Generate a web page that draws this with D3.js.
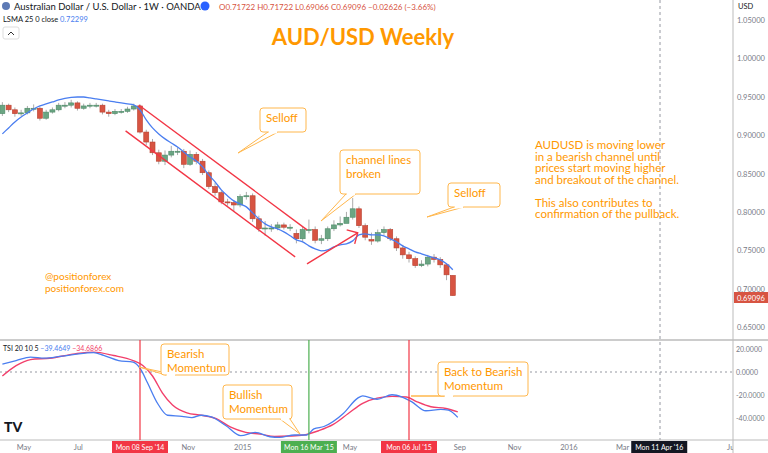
<!DOCTYPE html>
<html><head><meta charset="utf-8">
<script src="https://cdn.jsdelivr.net/npm/d3@7"></script>
<style>
body{margin:0;background:#fff;}
svg{font-family:Lato,"Open Sans",sans-serif;}
</style></head>
<body><div id="chart"></div>
<script>
// weekly candles, week 0 = Mon 07 Apr 2014
var closes = [0.939,0.933,0.928,0.929,0.935,0.935,0.922,0.930,0.933,0.939,0.939,0.942,0.935,0.938,0.939,0.939,0.930,0.928,0.931,0.931,0.934,0.938,
  0.904,0.891,0.877,0.866,0.874,0.879,0.879,0.862,0.875,0.866,0.851,0.833,0.825,0.813,0.812,0.809,0.820,0.821,
  0.791,0.778,0.779,0.779,0.783,0.780,0.780,0.765,0.777,0.777,0.763,0.765,0.778,0.783,0.785,0.793,0.804,
  0.782,0.767,0.762,0.773,0.777,0.765,0.753,0.744,0.739,0.730,0.732,0.741,0.738,0.731,0.718,0.69096];
var opens = [0.928,0.939,0.933,0.928,0.929,0.935,0.935,0.922,0.930,0.933,0.939,0.939,0.942,0.935,0.938,0.939,0.939,0.930,0.928,0.931,0.931,0.934,
  0.938,0.904,0.891,0.877,0.866,0.874,0.879,0.879,0.862,0.875,0.866,0.851,0.833,0.825,0.813,0.812,0.809,0.820,
  0.821,0.791,0.778,0.779,0.779,0.783,0.780,0.772,0.765,0.777,0.777,0.763,0.765,0.778,0.783,0.785,0.793,
  0.804,0.782,0.764,0.762,0.773,0.777,0.765,0.753,0.744,0.739,0.730,0.732,0.741,0.738,0.731,0.71722];
var highs = [0.943,0.941,0.936,0.933,0.938,0.940,0.937,0.933,0.936,0.942,0.943,0.946,0.944,0.941,0.942,0.942,0.941,0.933,0.934,0.934,0.937,0.941,
  0.940,0.907,0.895,0.881,0.880,0.886,0.884,0.882,0.880,0.878,0.869,0.854,0.838,0.828,0.817,0.815,0.823,0.826,
  0.824,0.795,0.788,0.784,0.787,0.786,0.784,0.777,0.781,0.790,0.781,0.770,0.781,0.789,0.794,0.800,0.818,
  0.807,0.785,0.773,0.777,0.781,0.779,0.768,0.757,0.748,0.742,0.737,0.744,0.745,0.741,0.733,0.71722];
var lows = [0.925,0.930,0.924,0.925,0.927,0.931,0.919,0.920,0.928,0.931,0.935,0.936,0.932,0.933,0.935,0.936,0.927,0.924,0.926,0.928,0.929,0.932,
  0.902,0.887,0.874,0.862,0.861,0.871,0.874,0.857,0.860,0.862,0.848,0.830,0.821,0.810,0.808,0.801,0.806,0.816,
  0.787,0.774,0.769,0.774,0.776,0.777,0.775,0.759,0.761,0.772,0.759,0.758,0.762,0.775,0.781,0.787,0.790,
  0.779,0.763,0.757,0.760,0.770,0.762,0.749,0.739,0.734,0.727,0.728,0.729,0.734,0.727,0.711,0.69066];
var lsma = [0.9016,0.9094,0.9172,0.9237,0.9289,0.9341,0.9380,0.9406,0.9432,0.9458,0.9478,0.9491,0.9497,0.9497,0.9484,0.9471,0.9458,0.9445,0.9432,0.9419,0.9406,0.9393,
  0.9328,0.9198,0.9094,0.9016,0.8951,0.8898,0.8846,0.8781,0.8716,0.8664,0.8586,0.8482,0.8391,0.8286,0.8208,0.8143,0.8104,0.8065,
  0.7987,0.7909,0.7844,0.7805,0.7779,0.7740,0.7688,0.7635,0.7609,0.7557,0.7518,0.7492,0.7505,0.7544,0.7570,0.7583,0.7622,
  0.7701,0.7714,0.7701,0.7701,0.7688,0.7648,0.7609,0.7557,0.7518,0.7479,0.7453,0.7427,0.7401,0.7375,0.7323,0.7245];
// TSI readings [week, value]
var tsiLine = [[0,6.9],[2.2,9.9],[4.5,12.9],[6.8,12.0],[9.2,13.5],[11.6,15.3],[14.6,16.8],[16.2,14.4],[18.6,9.9],[20.9,8.5],[22.1,2.5],[23.2,-9.4],
  [24.8,-27.2],[26.4,-37.6],[28.7,-38.5],[30.3,-39.7],[31.8,-37.6],[33.4,-39.1],[35.7,-46.5],[38.1,-55.4],[40.4,-52.5],[42.8,-56.3],[44.3,-56.9],
  [46.7,-54.8],[48.6,-54.8],[49.8,-49.5],[51.4,-47.4],[54.5,-36.1],[56.8,-22.7],[57.6,-20.7],[59.9,-23.7],[62.3,-19.8],[63.9,-21.8],[65.4,-25.7],
  [67.7,-33.7],[70.1,-32.5],[71.3,-33.1],[72.8,-39.46]];
var tsiSignal = [[0,-3.5],[2.2,5.5],[4.5,10.8],[7.6,12.0],[11.6,15.8],[14.6,17.3],[17.8,14.3],[20.9,9.9],[22.5,5.5],[24.0,-3.5],[25.6,-18.3],[27.2,-28.7],
  [29.5,-35.5],[31.8,-37.6],[34.2,-40.6],[36.5,-48.0],[38.9,-52.5],[41.2,-54.0],[43.5,-56.0],[45.9,-55.7],[48.2,-54.8],[50.6,-51.0],[52.9,-45.6],
  [55.3,-36.1],[57.6,-27.2],[59.9,-22.7],[62.3,-21.2],[64.6,-21.8],[66.2,-25.7],[68.5,-30.2],[70.9,-31.7],[72.8,-34.69]];
var priceTicks = [0.65,0.70,0.75,0.80,0.85,0.90,0.95,1.00,1.05];
var tsiTicks = [20,0,-20,-40];
var timeTicks = ["2014-05-01","2014-07-01","2014-11-01","2015-01-01","2015-05-01","2015-09-01","2015-11-01","2016-01-01","2016-03-01","2016-07-01"];
var timeLabels = ["May","Jul","Nov","2015","May","Sep","Nov","2016","Mar","Jul"];
var markDates = ["2014-09-08","2015-03-16","2015-07-06","2016-04-11"];
var markLabels = ["Mon 08 Sep '14","Mon 16 Mar '15","Mon 06 Jul '15","Mon 11 Apr '16"];
var markColors = ["#f23645","#4caf50","#f23645","#131722"];
var channelUpper = [[21.8,0.9393],[48.7,0.7766]];
var channelLower = [[19.7,0.9055],[46.8,0.7414]];
var breakArrow = [[48.7,0.7323],[56.8,0.7727]];

var W = 768, H = 453, axisX = 733, sepY = 340, botY = 440;
var orange = "#ff9800", up = "#6ba583", down = "#d75442";
var start = new Date(2014, 3, 7);
var x = d3.scaleTime().domain([new Date(2014, 8, 8), new Date(2015, 6, 6)]).range([140, 409]);
var xw = i => x(d3.timeHour.offset(start, i * 7 * 24));
var y = d3.scaleLinear().domain([0.65, 1.05]).range([327, 20]);
var yt = d3.scaleLinear().domain([-40, 20]).range([418, 349]);

var svg = d3.select('#chart').append('svg').attr('width', W).attr('height', H);
svg.append('defs').append('clipPath').attr('id', 'plot').append('rect').attr('width', axisX).attr('height', H);
var g = svg.append('g').attr('clip-path', 'url(#plot)');

// crosshair + separators
g.append('line').attr('x1', 660).attr('x2', 660).attr('y1', 0).attr('y2', botY).attr('stroke', '#9598a1').attr('stroke-dasharray', '3,3');
g.append('line').attr('x1', 0).attr('x2', axisX).attr('y1', yt(0)).attr('y2', yt(0)).attr('stroke', '#9598a1').attr('stroke-dasharray', '2,3');
svg.append('line').attr('x1', 0).attr('x2', W).attr('y1', sepY).attr('y2', sepY).attr('stroke', '#bbb').attr('stroke-width', 1.5);
svg.append('line').attr('x1', 0).attr('x2', W).attr('y1', botY).attr('y2', botY).attr('stroke', '#bbb');
svg.append('line').attr('x1', axisX).attr('x2', axisX).attr('y1', 0).attr('y2', H).attr('stroke', '#bbb');

// candles
var candles = g.selectAll('.c').data(closes).enter().append('g');
candles.append('line').attr('x1', (d, i) => xw(i)).attr('x2', (d, i) => xw(i))
  .attr('y1', (d, i) => y(highs[i])).attr('y2', (d, i) => y(lows[i])).attr('stroke', '#aaa');
candles.append('rect').attr('x', (d, i) => xw(i) - 2.5).attr('width', 5)
  .attr('y', (d, i) => y(Math.max(d, opens[i])))
  .attr('height', (d, i) => Math.max(1, Math.abs(y(d) - y(opens[i]))))
  .attr('fill', (d, i) => d >= opens[i] ? up : down)
  .attr('stroke', (d, i) => d >= opens[i] ? '#4d8a68' : '#b8402f').attr('stroke-width', 0.6);

g.append('path').datum(lsma).attr('fill', 'none').attr('stroke', '#4a7ef0').attr('stroke-width', 1.3)
  .attr('d', d3.line().x((d, i) => xw(i)).y(d => y(d)).curve(d3.curveMonotoneX));

// channel lines and arrow
[channelUpper, channelLower, breakArrow].forEach(p => {
  g.append('line').attr('x1', xw(p[0][0])).attr('y1', y(p[0][1])).attr('x2', xw(p[1][0])).attr('y2', y(p[1][1]))
    .attr('stroke', '#f23645').attr('stroke-width', 1.4);
});
var ax = xw(breakArrow[1][0]), ay = y(breakArrow[1][1]);
g.append('path').attr('d', `M${ax - 11},${ay - 3}L${ax},${ay}L${ax - 3},${ay + 11}`).attr('fill', 'none').attr('stroke', '#f23645').attr('stroke-width', 1.4);

// TSI
var tl = d3.line().x(d => xw(d[0])).y(d => yt(d[1])).curve(d3.curveMonotoneX);
g.append('path').datum(tsiSignal).attr('fill', 'none').attr('stroke', '#f23f6b').attr('stroke-width', 1.4).attr('d', tl);
g.append('path').datum(tsiLine).attr('fill', 'none').attr('stroke', '#4a7ef0').attr('stroke-width', 1.3).attr('d', tl);

markDates.slice(0, 3).forEach((d, i) => {
  var xx = x(new Date(d + 'T00:00'));
  svg.append('line').attr('x1', xx).attr('x2', xx).attr('y1', sepY).attr('y2', botY).attr('stroke', markColors[i]).attr('stroke-width', 1.2);
});

// axes labels
svg.selectAll('.pt').data(priceTicks).enter().append('text').attr('x', 737).attr('y', d => y(d) + 3)
  .attr('font-size', 7.5).attr('fill', '#787b86').text(d => d.toFixed(5));
svg.append('text').attr('x', 738).attr('y', 9).attr('font-size', 7.5).attr('fill', '#131722').text('USD');
svg.append('rect').attr('x', 734).attr('y', 292).attr('width', 34).attr('height', 11).attr('fill', '#d75442');
svg.append('text').attr('x', 737).attr('y', 300.5).attr('font-size', 7.5).attr('fill', '#fff').text('0.69096');
svg.selectAll('.tt').data(tsiTicks).enter().append('text').attr('x', 736).attr('y', d => yt(d) + 3)
  .attr('font-size', 7).attr('fill', '#787b86').text(d => d.toFixed(4));
svg.selectAll('.xt').data(timeTicks).enter().append('text').attr('clip-path', 'url(#plot)')
  .attr('x', d => x(new Date(d + 'T00:00'))).attr('y', 450).attr('text-anchor', 'middle')
  .attr('font-size', 7.5).attr('fill', '#787b86').text((d, i) => timeLabels[i]);
markDates.forEach((d, i) => {
  var xx = x(new Date(d + 'T00:00'));
  svg.append('rect').attr('x', xx - 28).attr('y', 441).attr('width', 56).attr('height', 12).attr('fill', markColors[i]);
  svg.append('text').attr('x', xx).attr('y', 450).attr('text-anchor', 'middle').attr('font-size', 7).attr('fill', '#fff').text(markLabels[i]);
});

// headers
svg.append('circle').attr('cx', 6).attr('cy', 6).attr('r', 4).attr('fill', '#5d7ab5');
svg.append('text').attr('x', 14).attr('y', 10).attr('font-size', 9.5).attr('fill', '#131722').text('Australian Dollar / U.S. Dollar · 1W · OANDA');
svg.append('circle').attr('cx', 205).attr('cy', 6).attr('r', 4.5).attr('fill', '#2962ff');
svg.append('text').attr('x', 219).attr('y', 10).attr('font-size', 8).attr('fill', '#d75442')
  .text('O0.71722 H0.71722 L0.69066 C0.69096 −0.02626 (−3.66%)');
svg.append('text').attr('x', 3).attr('y', 22).attr('font-size', 7.5).attr('fill', '#131722').text('LSMA 25 0 close');
svg.append('text').attr('x', 60).attr('y', 22).attr('font-size', 7.5).attr('fill', '#4a7ef0').text('0.72299');
svg.append('rect').attr('x', 3).attr('y', 27).attr('width', 16).attr('height', 12).attr('rx', 2).attr('fill', '#fff').attr('stroke', '#ddd');
svg.append('path').attr('d', 'M8,35L11,32L14,35').attr('fill', 'none').attr('stroke', '#333');
var th = svg.append('text').attr('x', 3).attr('y', 351).attr('font-size', 7).attr('fill', '#131722').text('TSI 20 10 5 ');
th.append('tspan').attr('fill', '#4a7ef0').text('−39.4649 ');
th.append('tspan').attr('fill', '#f23f6b').text('−34.6866');
svg.append('text').attr('x', 4).attr('y', 432).attr('font-size', 14).attr('font-weight', 900).attr('fill', '#131722').text('TV');

// annotations
svg.append('text').attr('x', 363).attr('y', 45).attr('text-anchor', 'middle').attr('font-size', 22).attr('font-weight', 'bold')
  .attr('fill', orange).text('AUD/USD Weekly');
function callout(x0, y0, w, h, lines, tx, ty, bx) {
  svg.append('path').attr('d', `M${bx},${y0 + h}L${tx},${ty}L${bx + 10},${y0 + h}`).attr('fill', '#fff').attr('stroke', '#ffb74d');
  svg.append('rect').attr('x', x0).attr('y', y0).attr('width', w).attr('height', h).attr('rx', 3).attr('fill', '#fff').attr('stroke', '#ffb74d');
  svg.append('rect').attr('x', bx + 0.8).attr('y', y0 + h - 1.5).attr('width', 8.4).attr('height', 3).attr('fill', '#fff');
  lines.forEach((l, i) => svg.append('text').attr('x', x0 + 6).attr('y', y0 + 14 + i * 13.5).attr('font-size', 11.5).attr('fill', orange).text(l));
}
callout(260, 108, 46, 24, ['Selloff'], 238, 153, 268);
callout(340, 150, 80, 44, ['channel lines', 'broken'], 321, 221, 346);
callout(448, 183, 52, 24, ['Selloff'], 427, 217, 454);
callout(161, 344, 68, 31, ['Bearish', 'Momentum'], 139, 367, 166);
callout(223, 385, 69, 34, ['Bullish', 'Momentum'], 300, 434, 280);
callout(438, 362, 90, 34, ['Back to Bearish', 'Momentum'], 411, 396, 444);
var para = ['AUDUSD is moving lower', 'in a bearish channel until', 'prices start moving higher', 'and breakout of the channel.', '', 'This also contributes to', 'confirmation of the pullback.'];
para.forEach((l, i) => svg.append('text').attr('x', 535).attr('y', 149 + i * 11.5).attr('font-size', 11.5).attr('fill', orange).text(l));
svg.append('text').attr('x', 45).attr('y', 280).attr('font-size', 10).attr('fill', orange).text('@positionforex');
svg.append('text').attr('x', 45).attr('y', 292).attr('font-size', 10).attr('fill', orange).text('positionforex.com');
</script></body></html>
